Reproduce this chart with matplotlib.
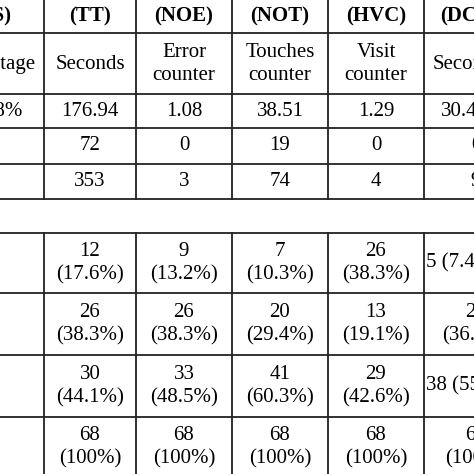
import matplotlib
matplotlib.use("Agg")
import matplotlib.pyplot as plt

headers = ["(PS)", "(TT)", "(NOE)", "(NOT)", "(HVC)", "(DC)"]
units = ["Percentage", "Seconds", "Error\ncounter", "Touches\ncounter", "Visit\ncounter", "Seconds"]
means = ["58%", "176.94", "1.08", "38.51", "1.29", "30.4"]
mins = ["", "72", "0", "19", "0", "0"]
maxs = ["", "353", "3", "74", "4", "9"]
counts = {
    "TT": [12, 26, 30, 68],
    "NOE": [9, 26, 33, 68],
    "NOT": [7, 20, 41, 68],
    "HVC": [26, 13, 29, 68],
    "DC": [5, 25, 38, 68],
}
pcts = {
    "TT": ["17.6%", "38.3%", "44.1%", "100%"],
    "NOE": ["13.2%", "38.3%", "48.5%", "100%"],
    "NOT": ["10.3%", "29.4%", "60.3%", "100%"],
    "HVC": ["38.3%", "19.1%", "42.6%", "100%"],
    "DC": ["7.4%", "36.7%", "55.9%", "100%"],
}

fig = plt.figure(figsize=(4.74, 4.74), dpi=100)
ax = fig.add_axes([0, 0, 1, 1])
ax.set_xlim(0, 474)
ax.set_ylim(474, 0)
ax.axis("off")
F = dict(family="Liberation Serif", fontsize=15, clip_on=True, ha="center", va="center")

vx = [44, 136, 232, 328, 424]
top_h = [33, 94, 128, 164, 199]
bot_h = [233, 293, 355, 417]
for x in vx:
    ax.plot([x, x], [0, 199], color="#222", lw=1.3)
    ax.plot([x, x], [233, 474], color="#222", lw=1.3)
for y in top_h + bot_h:
    ax.plot([0, 474], [y, y], color="#222", lw=1.3)

centers = [-2, 90, 184, 280, 376, 476]
left_x = [11, 36, 23, 36, 36]
rows_top = [(16.5, headers), (64, units), (111, means), (146, mins), (181.5, maxs)]
for yi, (y, vals) in enumerate(rows_top):
    for i, (cx, v) in enumerate(zip(centers, vals)):
        kw = dict(F)
        if yi == 0:
            kw["fontweight"] = "bold"
        if i == 0:
            kw["ha"] = "right"
            ax.text(left_x[yi], y, v, **kw)
        elif i == 5 and yi in (0, 1, 2):
            kw["ha"] = "left"
            ax.text([440, 433, 441][yi], y, v, **kw)
        else:
            ax.text(cx, y, v, linespacing=1.3, **kw)

keys = ["TT", "NOE", "NOT", "HVC", "DC"]
rows_y = [263, 324, 386, 447]
for j, y in enumerate(rows_y):
    for i, k in enumerate(keys):
        c, p = counts[k][j], pcts[k][j]
        if k == "DC" and j in (0, 2):
            kw = dict(F); kw["ha"] = "left"
            ax.text(426, y, f"{c} ({p})", **kw)
        else:
            ax.text(centers[i + 1], y, f"{c}\n({p})", linespacing=1.3, **F)

fig.savefig("out.png", dpi=100)
